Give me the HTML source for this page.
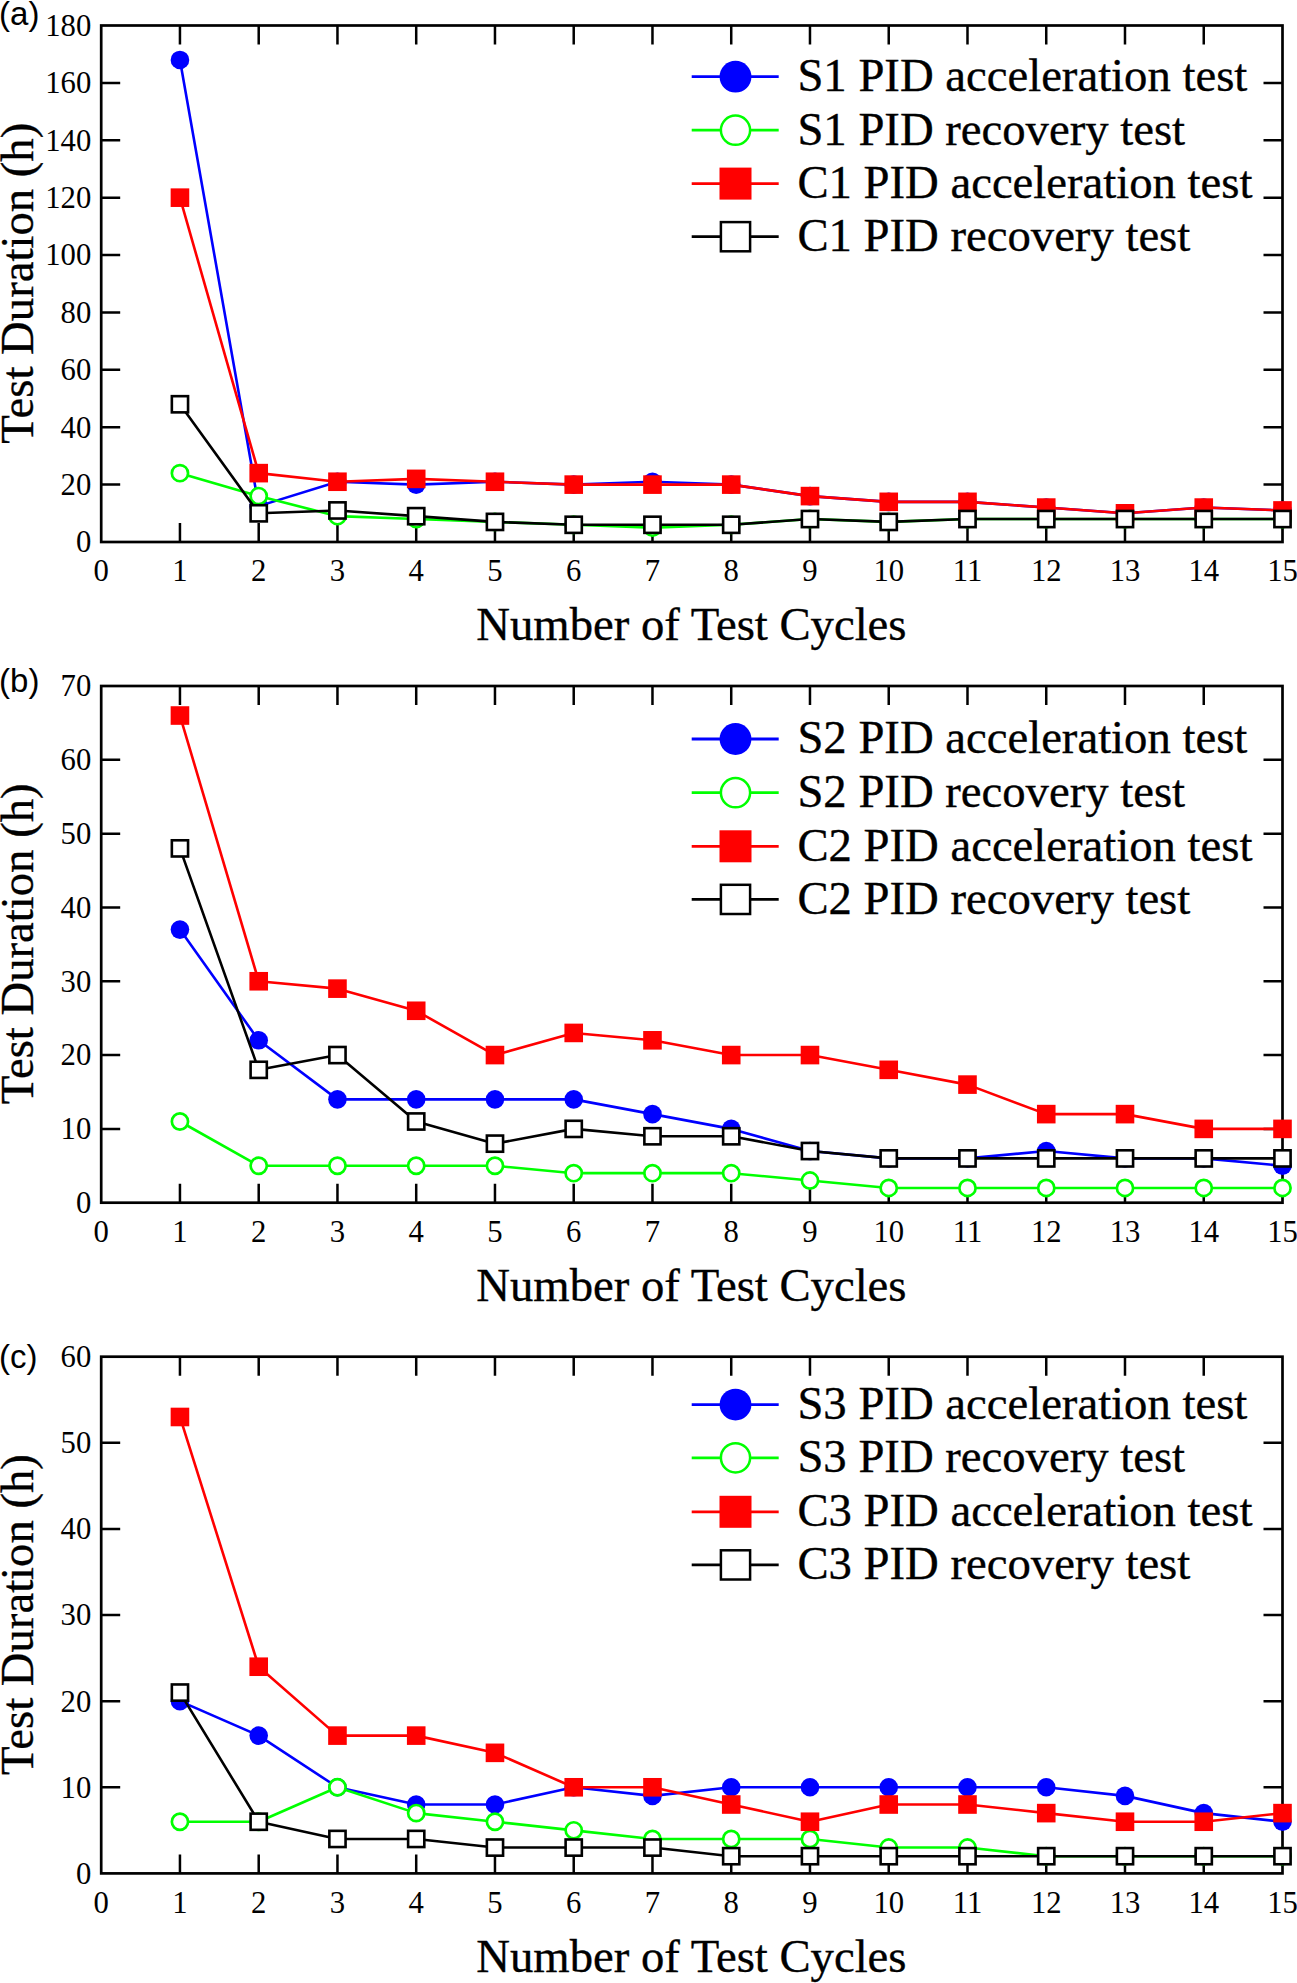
<!DOCTYPE html>
<html><head><meta charset="utf-8"><title>PID test duration</title>
<style>
html,body{margin:0;padding:0;background:#fff;}
body{width:1297px;height:1983px;overflow:hidden;}
svg{display:block;}
.t{font-family:"Liberation Serif", serif;font-size:30.7px;text-anchor:middle;fill:#000;}
.ty{font-family:"Liberation Serif", serif;font-size:30.7px;text-anchor:end;fill:#000;}
.ti{font-family:"Liberation Serif", serif;font-size:46.7px;text-anchor:middle;fill:#000;stroke:#000;stroke-width:0.35px;}
.lg{font-family:"Liberation Serif", serif;font-size:46.7px;fill:#000;stroke:#000;stroke-width:0.35px;}
.pl{font-family:"Liberation Sans", sans-serif;font-size:33px;fill:#000;}
</style></head><body>
<svg width="1297" height="1983" viewBox="0 0 1297 1983">
<rect width="1297" height="1983" fill="#fff"/>
<path d="M179.95 542V523M179.95 25.5V44.5M258.71 542V523M258.71 25.5V44.5M337.46 542V523M337.46 25.5V44.5M416.21 542V523M416.21 25.5V44.5M494.97 542V523M494.97 25.5V44.5M573.72 542V523M573.72 25.5V44.5M652.47 542V523M652.47 25.5V44.5M731.23 542V523M731.23 25.5V44.5M809.98 542V523M809.98 25.5V44.5M888.73 542V523M888.73 25.5V44.5M967.49 542V523M967.49 25.5V44.5M1046.24 542V523M1046.24 25.5V44.5M1124.99 542V523M1124.99 25.5V44.5M1203.75 542V523M1203.75 25.5V44.5M101.2 484.61H120.2M1282.5 484.61H1263.5M101.2 427.22H120.2M1282.5 427.22H1263.5M101.2 369.83H120.2M1282.5 369.83H1263.5M101.2 312.44H120.2M1282.5 312.44H1263.5M101.2 255.06H120.2M1282.5 255.06H1263.5M101.2 197.67H120.2M1282.5 197.67H1263.5M101.2 140.28H120.2M1282.5 140.28H1263.5M101.2 82.89H120.2M1282.5 82.89H1263.5" stroke="#000" stroke-width="2.5" fill="none"/>
<rect x="101.2" y="25.5" width="1181.3" height="516.5" fill="none" stroke="#000" stroke-width="2.7"/>
<text transform="translate(101.2 581.3) scale(1 1.03)" class="t">0</text>
<text transform="translate(179.95 581.3) scale(1 1.03)" class="t">1</text>
<text transform="translate(258.71 581.3) scale(1 1.03)" class="t">2</text>
<text transform="translate(337.46 581.3) scale(1 1.03)" class="t">3</text>
<text transform="translate(416.21 581.3) scale(1 1.03)" class="t">4</text>
<text transform="translate(494.97 581.3) scale(1 1.03)" class="t">5</text>
<text transform="translate(573.72 581.3) scale(1 1.03)" class="t">6</text>
<text transform="translate(652.47 581.3) scale(1 1.03)" class="t">7</text>
<text transform="translate(731.23 581.3) scale(1 1.03)" class="t">8</text>
<text transform="translate(809.98 581.3) scale(1 1.03)" class="t">9</text>
<text transform="translate(888.73 581.3) scale(1 1.03)" class="t">10</text>
<text transform="translate(967.49 581.3) scale(1 1.03)" class="t">11</text>
<text transform="translate(1046.24 581.3) scale(1 1.03)" class="t">12</text>
<text transform="translate(1124.99 581.3) scale(1 1.03)" class="t">13</text>
<text transform="translate(1203.75 581.3) scale(1 1.03)" class="t">14</text>
<text transform="translate(1282.5 581.3) scale(1 1.03)" class="t">15</text>
<text transform="translate(91.3 552.4) scale(1 1.03)" class="ty">0</text>
<text transform="translate(91.3 495.01) scale(1 1.03)" class="ty">20</text>
<text transform="translate(91.3 437.62) scale(1 1.03)" class="ty">40</text>
<text transform="translate(91.3 380.23) scale(1 1.03)" class="ty">60</text>
<text transform="translate(91.3 322.84) scale(1 1.03)" class="ty">80</text>
<text transform="translate(91.3 265.46) scale(1 1.03)" class="ty">100</text>
<text transform="translate(91.3 208.07) scale(1 1.03)" class="ty">120</text>
<text transform="translate(91.3 150.68) scale(1 1.03)" class="ty">140</text>
<text transform="translate(91.3 93.29) scale(1 1.03)" class="ty">160</text>
<text transform="translate(91.3 35.9) scale(1 1.03)" class="ty">180</text>
<text transform="translate(691.4 639.7) scale(1 1.0)" class="ti">Number of Test Cycles</text>
<text transform="translate(33.3 283.25) rotate(-90) scale(1 1.0)" class="ti">Test Duration (h)</text>
<text x="-0.9" y="24.7" class="pl">(a)</text>
<polyline points="179.95,59.93 258.71,506.13 337.46,481.74 416.21,484.61 494.97,481.74 573.72,484.61 652.47,481.74 731.23,484.61 809.98,496.09 888.73,501.83 967.49,501.83 1046.24,507.57 1124.99,513.31 1203.75,507.57 1282.5,510.44" fill="none" stroke="#0000ff" stroke-width="2.6" stroke-linejoin="round"/>
<g fill="#0000ff"><circle cx="179.95" cy="59.93" r="9.3"/><circle cx="258.71" cy="506.13" r="9.3"/><circle cx="337.46" cy="481.74" r="9.3"/><circle cx="416.21" cy="484.61" r="9.3"/><circle cx="494.97" cy="481.74" r="9.3"/><circle cx="573.72" cy="484.61" r="9.3"/><circle cx="652.47" cy="481.74" r="9.3"/><circle cx="731.23" cy="484.61" r="9.3"/><circle cx="809.98" cy="496.09" r="9.3"/><circle cx="888.73" cy="501.83" r="9.3"/><circle cx="967.49" cy="501.83" r="9.3"/><circle cx="1046.24" cy="507.57" r="9.3"/><circle cx="1124.99" cy="513.31" r="9.3"/><circle cx="1203.75" cy="507.57" r="9.3"/><circle cx="1282.5" cy="510.44" r="9.3"/></g>
<polyline points="179.95,473.13 258.71,496.09 337.46,516.17 416.21,519.04 494.97,521.91 573.72,524.78 652.47,527.65 731.23,524.78 809.98,519.04 888.73,521.91 967.49,519.04 1046.24,519.04 1124.99,519.04 1203.75,519.04 1282.5,519.04" fill="none" stroke="#00ff00" stroke-width="2.6" stroke-linejoin="round"/>
<g fill="#fff" stroke="#00ff00" stroke-width="2.7"><circle cx="179.95" cy="473.13" r="8.1"/><circle cx="258.71" cy="496.09" r="8.1"/><circle cx="337.46" cy="516.17" r="8.1"/><circle cx="416.21" cy="519.04" r="8.1"/><circle cx="494.97" cy="521.91" r="8.1"/><circle cx="573.72" cy="524.78" r="8.1"/><circle cx="652.47" cy="527.65" r="8.1"/><circle cx="731.23" cy="524.78" r="8.1"/><circle cx="809.98" cy="519.04" r="8.1"/><circle cx="888.73" cy="521.91" r="8.1"/><circle cx="967.49" cy="519.04" r="8.1"/><circle cx="1046.24" cy="519.04" r="8.1"/><circle cx="1124.99" cy="519.04" r="8.1"/><circle cx="1203.75" cy="519.04" r="8.1"/><circle cx="1282.5" cy="519.04" r="8.1"/></g>
<polyline points="179.95,197.67 258.71,473.13 337.46,481.74 416.21,478.87 494.97,481.74 573.72,484.61 652.47,484.61 731.23,484.61 809.98,496.09 888.73,501.83 967.49,501.83 1046.24,507.57 1124.99,513.31 1203.75,507.57 1282.5,510.44" fill="none" stroke="#ff0000" stroke-width="2.6" stroke-linejoin="round"/>
<g fill="#ff0000"><rect x="170.65" y="188.37" width="18.6" height="18.6"/><rect x="249.41" y="463.83" width="18.6" height="18.6"/><rect x="328.16" y="472.44" width="18.6" height="18.6"/><rect x="406.91" y="469.57" width="18.6" height="18.6"/><rect x="485.67" y="472.44" width="18.6" height="18.6"/><rect x="564.42" y="475.31" width="18.6" height="18.6"/><rect x="643.17" y="475.31" width="18.6" height="18.6"/><rect x="721.93" y="475.31" width="18.6" height="18.6"/><rect x="800.68" y="486.79" width="18.6" height="18.6"/><rect x="879.43" y="492.53" width="18.6" height="18.6"/><rect x="958.19" y="492.53" width="18.6" height="18.6"/><rect x="1036.94" y="498.27" width="18.6" height="18.6"/><rect x="1115.69" y="504.01" width="18.6" height="18.6"/><rect x="1194.45" y="498.27" width="18.6" height="18.6"/><rect x="1273.2" y="501.14" width="18.6" height="18.6"/></g>
<polyline points="179.95,404.27 258.71,513.31 337.46,510.44 416.21,516.17 494.97,521.91 573.72,524.78 652.47,524.78 731.23,524.78 809.98,519.04 888.73,521.91 967.49,519.04 1046.24,519.04 1124.99,519.04 1203.75,519.04 1282.5,519.04" fill="none" stroke="#000000" stroke-width="2.6" stroke-linejoin="round"/>
<g fill="#fff" stroke="#000000" stroke-width="2.6"><rect x="171.85" y="396.17" width="16.2" height="16.2"/><rect x="250.61" y="505.21" width="16.2" height="16.2"/><rect x="329.36" y="502.34" width="16.2" height="16.2"/><rect x="408.11" y="508.07" width="16.2" height="16.2"/><rect x="486.87" y="513.81" width="16.2" height="16.2"/><rect x="565.62" y="516.68" width="16.2" height="16.2"/><rect x="644.37" y="516.68" width="16.2" height="16.2"/><rect x="723.13" y="516.68" width="16.2" height="16.2"/><rect x="801.88" y="510.94" width="16.2" height="16.2"/><rect x="880.63" y="513.81" width="16.2" height="16.2"/><rect x="959.39" y="510.94" width="16.2" height="16.2"/><rect x="1038.14" y="510.94" width="16.2" height="16.2"/><rect x="1116.89" y="510.94" width="16.2" height="16.2"/><rect x="1195.65" y="510.94" width="16.2" height="16.2"/><rect x="1274.4" y="510.94" width="16.2" height="16.2"/></g>
<path d="M691.7 76.7H778.7" stroke="#0000ff" stroke-width="2.8"/>
<circle cx="735.5" cy="76.7" r="15.9" fill="#0000ff"/>
<text transform="translate(797.4 91) scale(1 1.0)" class="lg">S1 PID acceleration test</text>
<path d="M691.7 130.2H778.7" stroke="#00ff00" stroke-width="2.8"/>
<circle cx="735.5" cy="130.2" r="14.6" fill="#fff" stroke="#00ff00" stroke-width="2.5"/>
<text transform="translate(797.4 144.5) scale(1 1.0)" class="lg">S1 PID recovery test</text>
<path d="M691.7 183.6H778.7" stroke="#ff0000" stroke-width="2.8"/>
<rect x="719.5" y="167.6" width="32" height="32" fill="#ff0000"/>
<text transform="translate(797.4 197.9) scale(1 1.0)" class="lg">C1 PID acceleration test</text>
<path d="M691.7 236.7H778.7" stroke="#000000" stroke-width="2.8"/>
<rect x="720.9" y="222.1" width="29.2" height="29.2" fill="#fff" stroke="#000000" stroke-width="2.5"/>
<text transform="translate(797.4 251) scale(1 1.0)" class="lg">C1 PID recovery test</text>
<path d="M179.95 1202.7V1183.7M179.95 686V705M258.71 1202.7V1183.7M258.71 686V705M337.46 1202.7V1183.7M337.46 686V705M416.21 1202.7V1183.7M416.21 686V705M494.97 1202.7V1183.7M494.97 686V705M573.72 1202.7V1183.7M573.72 686V705M652.47 1202.7V1183.7M652.47 686V705M731.23 1202.7V1183.7M731.23 686V705M809.98 1202.7V1183.7M809.98 686V705M888.73 1202.7V1183.7M888.73 686V705M967.49 1202.7V1183.7M967.49 686V705M1046.24 1202.7V1183.7M1046.24 686V705M1124.99 1202.7V1183.7M1124.99 686V705M1203.75 1202.7V1183.7M1203.75 686V705M101.2 1128.89H120.2M1282.5 1128.89H1263.5M101.2 1055.07H120.2M1282.5 1055.07H1263.5M101.2 981.26H120.2M1282.5 981.26H1263.5M101.2 907.44H120.2M1282.5 907.44H1263.5M101.2 833.63H120.2M1282.5 833.63H1263.5M101.2 759.81H120.2M1282.5 759.81H1263.5" stroke="#000" stroke-width="2.5" fill="none"/>
<rect x="101.2" y="686" width="1181.3" height="516.7" fill="none" stroke="#000" stroke-width="2.7"/>
<text transform="translate(101.2 1242) scale(1 1.03)" class="t">0</text>
<text transform="translate(179.95 1242) scale(1 1.03)" class="t">1</text>
<text transform="translate(258.71 1242) scale(1 1.03)" class="t">2</text>
<text transform="translate(337.46 1242) scale(1 1.03)" class="t">3</text>
<text transform="translate(416.21 1242) scale(1 1.03)" class="t">4</text>
<text transform="translate(494.97 1242) scale(1 1.03)" class="t">5</text>
<text transform="translate(573.72 1242) scale(1 1.03)" class="t">6</text>
<text transform="translate(652.47 1242) scale(1 1.03)" class="t">7</text>
<text transform="translate(731.23 1242) scale(1 1.03)" class="t">8</text>
<text transform="translate(809.98 1242) scale(1 1.03)" class="t">9</text>
<text transform="translate(888.73 1242) scale(1 1.03)" class="t">10</text>
<text transform="translate(967.49 1242) scale(1 1.03)" class="t">11</text>
<text transform="translate(1046.24 1242) scale(1 1.03)" class="t">12</text>
<text transform="translate(1124.99 1242) scale(1 1.03)" class="t">13</text>
<text transform="translate(1203.75 1242) scale(1 1.03)" class="t">14</text>
<text transform="translate(1282.5 1242) scale(1 1.03)" class="t">15</text>
<text transform="translate(91.3 1213.1) scale(1 1.03)" class="ty">0</text>
<text transform="translate(91.3 1139.29) scale(1 1.03)" class="ty">10</text>
<text transform="translate(91.3 1065.47) scale(1 1.03)" class="ty">20</text>
<text transform="translate(91.3 991.66) scale(1 1.03)" class="ty">30</text>
<text transform="translate(91.3 917.84) scale(1 1.03)" class="ty">40</text>
<text transform="translate(91.3 844.03) scale(1 1.03)" class="ty">50</text>
<text transform="translate(91.3 770.21) scale(1 1.03)" class="ty">60</text>
<text transform="translate(91.3 696.4) scale(1 1.03)" class="ty">70</text>
<text transform="translate(691.4 1301.1) scale(1 1.0)" class="ti">Number of Test Cycles</text>
<text transform="translate(33.3 943.85) rotate(-90) scale(1 1.0)" class="ti">Test Duration (h)</text>
<text x="-0.9" y="691.7" class="pl">(b)</text>
<polyline points="179.95,929.59 258.71,1040.31 337.46,1099.36 416.21,1099.36 494.97,1099.36 573.72,1099.36 652.47,1114.12 731.23,1128.89 809.98,1151.03 888.73,1158.41 967.49,1158.41 1046.24,1151.03 1124.99,1158.41 1203.75,1158.41 1282.5,1165.79" fill="none" stroke="#0000ff" stroke-width="2.6" stroke-linejoin="round"/>
<g fill="#0000ff"><circle cx="179.95" cy="929.59" r="9.3"/><circle cx="258.71" cy="1040.31" r="9.3"/><circle cx="337.46" cy="1099.36" r="9.3"/><circle cx="416.21" cy="1099.36" r="9.3"/><circle cx="494.97" cy="1099.36" r="9.3"/><circle cx="573.72" cy="1099.36" r="9.3"/><circle cx="652.47" cy="1114.12" r="9.3"/><circle cx="731.23" cy="1128.89" r="9.3"/><circle cx="809.98" cy="1151.03" r="9.3"/><circle cx="888.73" cy="1158.41" r="9.3"/><circle cx="967.49" cy="1158.41" r="9.3"/><circle cx="1046.24" cy="1151.03" r="9.3"/><circle cx="1124.99" cy="1158.41" r="9.3"/><circle cx="1203.75" cy="1158.41" r="9.3"/><circle cx="1282.5" cy="1165.79" r="9.3"/></g>
<polyline points="179.95,1121.5 258.71,1165.79 337.46,1165.79 416.21,1165.79 494.97,1165.79 573.72,1173.17 652.47,1173.17 731.23,1173.17 809.98,1180.56 888.73,1187.94 967.49,1187.94 1046.24,1187.94 1124.99,1187.94 1203.75,1187.94 1282.5,1187.94" fill="none" stroke="#00ff00" stroke-width="2.6" stroke-linejoin="round"/>
<g fill="#fff" stroke="#00ff00" stroke-width="2.7"><circle cx="179.95" cy="1121.5" r="8.1"/><circle cx="258.71" cy="1165.79" r="8.1"/><circle cx="337.46" cy="1165.79" r="8.1"/><circle cx="416.21" cy="1165.79" r="8.1"/><circle cx="494.97" cy="1165.79" r="8.1"/><circle cx="573.72" cy="1173.17" r="8.1"/><circle cx="652.47" cy="1173.17" r="8.1"/><circle cx="731.23" cy="1173.17" r="8.1"/><circle cx="809.98" cy="1180.56" r="8.1"/><circle cx="888.73" cy="1187.94" r="8.1"/><circle cx="967.49" cy="1187.94" r="8.1"/><circle cx="1046.24" cy="1187.94" r="8.1"/><circle cx="1124.99" cy="1187.94" r="8.1"/><circle cx="1203.75" cy="1187.94" r="8.1"/><circle cx="1282.5" cy="1187.94" r="8.1"/></g>
<polyline points="179.95,715.53 258.71,981.26 337.46,988.64 416.21,1010.78 494.97,1055.07 573.72,1032.93 652.47,1040.31 731.23,1055.07 809.98,1055.07 888.73,1069.83 967.49,1084.6 1046.24,1114.12 1124.99,1114.12 1203.75,1128.89 1282.5,1128.89" fill="none" stroke="#ff0000" stroke-width="2.6" stroke-linejoin="round"/>
<g fill="#ff0000"><rect x="170.65" y="706.23" width="18.6" height="18.6"/><rect x="249.41" y="971.96" width="18.6" height="18.6"/><rect x="328.16" y="979.34" width="18.6" height="18.6"/><rect x="406.91" y="1001.48" width="18.6" height="18.6"/><rect x="485.67" y="1045.77" width="18.6" height="18.6"/><rect x="564.42" y="1023.63" width="18.6" height="18.6"/><rect x="643.17" y="1031.01" width="18.6" height="18.6"/><rect x="721.93" y="1045.77" width="18.6" height="18.6"/><rect x="800.68" y="1045.77" width="18.6" height="18.6"/><rect x="879.43" y="1060.53" width="18.6" height="18.6"/><rect x="958.19" y="1075.3" width="18.6" height="18.6"/><rect x="1036.94" y="1104.82" width="18.6" height="18.6"/><rect x="1115.69" y="1104.82" width="18.6" height="18.6"/><rect x="1194.45" y="1119.59" width="18.6" height="18.6"/><rect x="1273.2" y="1119.59" width="18.6" height="18.6"/></g>
<polyline points="179.95,848.39 258.71,1069.83 337.46,1055.07 416.21,1121.5 494.97,1143.65 573.72,1128.89 652.47,1136.27 731.23,1136.27 809.98,1151.03 888.73,1158.41 967.49,1158.41 1046.24,1158.41 1124.99,1158.41 1203.75,1158.41 1282.5,1158.41" fill="none" stroke="#000000" stroke-width="2.6" stroke-linejoin="round"/>
<g fill="#fff" stroke="#000000" stroke-width="2.6"><rect x="171.85" y="840.29" width="16.2" height="16.2"/><rect x="250.61" y="1061.73" width="16.2" height="16.2"/><rect x="329.36" y="1046.97" width="16.2" height="16.2"/><rect x="408.11" y="1113.4" width="16.2" height="16.2"/><rect x="486.87" y="1135.55" width="16.2" height="16.2"/><rect x="565.62" y="1120.79" width="16.2" height="16.2"/><rect x="644.37" y="1128.17" width="16.2" height="16.2"/><rect x="723.13" y="1128.17" width="16.2" height="16.2"/><rect x="801.88" y="1142.93" width="16.2" height="16.2"/><rect x="880.63" y="1150.31" width="16.2" height="16.2"/><rect x="959.39" y="1150.31" width="16.2" height="16.2"/><rect x="1038.14" y="1150.31" width="16.2" height="16.2"/><rect x="1116.89" y="1150.31" width="16.2" height="16.2"/><rect x="1195.65" y="1150.31" width="16.2" height="16.2"/><rect x="1274.4" y="1150.31" width="16.2" height="16.2"/></g>
<path d="M691.7 739H778.7" stroke="#0000ff" stroke-width="2.8"/>
<circle cx="735.5" cy="739" r="15.9" fill="#0000ff"/>
<text transform="translate(797.4 753.3) scale(1 1.0)" class="lg">S2 PID acceleration test</text>
<path d="M691.7 792.7H778.7" stroke="#00ff00" stroke-width="2.8"/>
<circle cx="735.5" cy="792.7" r="14.6" fill="#fff" stroke="#00ff00" stroke-width="2.5"/>
<text transform="translate(797.4 807) scale(1 1.0)" class="lg">S2 PID recovery test</text>
<path d="M691.7 846.3H778.7" stroke="#ff0000" stroke-width="2.8"/>
<rect x="719.5" y="830.3" width="32" height="32" fill="#ff0000"/>
<text transform="translate(797.4 860.6) scale(1 1.0)" class="lg">C2 PID acceleration test</text>
<path d="M691.7 899.4H778.7" stroke="#000000" stroke-width="2.8"/>
<rect x="720.9" y="884.8" width="29.2" height="29.2" fill="#fff" stroke="#000000" stroke-width="2.5"/>
<text transform="translate(797.4 913.7) scale(1 1.0)" class="lg">C2 PID recovery test</text>
<path d="M179.95 1873.4V1854.4M179.95 1356.7V1375.7M258.71 1873.4V1854.4M258.71 1356.7V1375.7M337.46 1873.4V1854.4M337.46 1356.7V1375.7M416.21 1873.4V1854.4M416.21 1356.7V1375.7M494.97 1873.4V1854.4M494.97 1356.7V1375.7M573.72 1873.4V1854.4M573.72 1356.7V1375.7M652.47 1873.4V1854.4M652.47 1356.7V1375.7M731.23 1873.4V1854.4M731.23 1356.7V1375.7M809.98 1873.4V1854.4M809.98 1356.7V1375.7M888.73 1873.4V1854.4M888.73 1356.7V1375.7M967.49 1873.4V1854.4M967.49 1356.7V1375.7M1046.24 1873.4V1854.4M1046.24 1356.7V1375.7M1124.99 1873.4V1854.4M1124.99 1356.7V1375.7M1203.75 1873.4V1854.4M1203.75 1356.7V1375.7M101.2 1787.28H120.2M1282.5 1787.28H1263.5M101.2 1701.17H120.2M1282.5 1701.17H1263.5M101.2 1615.05H120.2M1282.5 1615.05H1263.5M101.2 1528.93H120.2M1282.5 1528.93H1263.5M101.2 1442.82H120.2M1282.5 1442.82H1263.5" stroke="#000" stroke-width="2.5" fill="none"/>
<rect x="101.2" y="1356.7" width="1181.3" height="516.7" fill="none" stroke="#000" stroke-width="2.7"/>
<text transform="translate(101.2 1912.7) scale(1 1.03)" class="t">0</text>
<text transform="translate(179.95 1912.7) scale(1 1.03)" class="t">1</text>
<text transform="translate(258.71 1912.7) scale(1 1.03)" class="t">2</text>
<text transform="translate(337.46 1912.7) scale(1 1.03)" class="t">3</text>
<text transform="translate(416.21 1912.7) scale(1 1.03)" class="t">4</text>
<text transform="translate(494.97 1912.7) scale(1 1.03)" class="t">5</text>
<text transform="translate(573.72 1912.7) scale(1 1.03)" class="t">6</text>
<text transform="translate(652.47 1912.7) scale(1 1.03)" class="t">7</text>
<text transform="translate(731.23 1912.7) scale(1 1.03)" class="t">8</text>
<text transform="translate(809.98 1912.7) scale(1 1.03)" class="t">9</text>
<text transform="translate(888.73 1912.7) scale(1 1.03)" class="t">10</text>
<text transform="translate(967.49 1912.7) scale(1 1.03)" class="t">11</text>
<text transform="translate(1046.24 1912.7) scale(1 1.03)" class="t">12</text>
<text transform="translate(1124.99 1912.7) scale(1 1.03)" class="t">13</text>
<text transform="translate(1203.75 1912.7) scale(1 1.03)" class="t">14</text>
<text transform="translate(1282.5 1912.7) scale(1 1.03)" class="t">15</text>
<text transform="translate(91.3 1883.8) scale(1 1.03)" class="ty">0</text>
<text transform="translate(91.3 1797.68) scale(1 1.03)" class="ty">10</text>
<text transform="translate(91.3 1711.57) scale(1 1.03)" class="ty">20</text>
<text transform="translate(91.3 1625.45) scale(1 1.03)" class="ty">30</text>
<text transform="translate(91.3 1539.33) scale(1 1.03)" class="ty">40</text>
<text transform="translate(91.3 1453.22) scale(1 1.03)" class="ty">50</text>
<text transform="translate(91.3 1367.1) scale(1 1.03)" class="ty">60</text>
<text transform="translate(691.4 1972.1) scale(1 1.0)" class="ti">Number of Test Cycles</text>
<text transform="translate(33.3 1614.55) rotate(-90) scale(1 1.0)" class="ti">Test Duration (h)</text>
<text x="-0.9" y="1367.9" class="pl">(c)</text>
<polyline points="179.95,1701.17 258.71,1735.61 337.46,1787.28 416.21,1804.51 494.97,1804.51 573.72,1787.28 652.47,1795.89 731.23,1787.28 809.98,1787.28 888.73,1787.28 967.49,1787.28 1046.24,1787.28 1124.99,1795.89 1203.75,1813.12 1282.5,1821.73" fill="none" stroke="#0000ff" stroke-width="2.6" stroke-linejoin="round"/>
<g fill="#0000ff"><circle cx="179.95" cy="1701.17" r="9.3"/><circle cx="258.71" cy="1735.61" r="9.3"/><circle cx="337.46" cy="1787.28" r="9.3"/><circle cx="416.21" cy="1804.51" r="9.3"/><circle cx="494.97" cy="1804.51" r="9.3"/><circle cx="573.72" cy="1787.28" r="9.3"/><circle cx="652.47" cy="1795.89" r="9.3"/><circle cx="731.23" cy="1787.28" r="9.3"/><circle cx="809.98" cy="1787.28" r="9.3"/><circle cx="888.73" cy="1787.28" r="9.3"/><circle cx="967.49" cy="1787.28" r="9.3"/><circle cx="1046.24" cy="1787.28" r="9.3"/><circle cx="1124.99" cy="1795.89" r="9.3"/><circle cx="1203.75" cy="1813.12" r="9.3"/><circle cx="1282.5" cy="1821.73" r="9.3"/></g>
<polyline points="179.95,1821.73 258.71,1821.73 337.46,1787.28 416.21,1813.12 494.97,1821.73 573.72,1830.34 652.47,1838.95 731.23,1838.95 809.98,1838.95 888.73,1847.57 967.49,1847.57 1046.24,1856.18 1124.99,1856.18 1203.75,1856.18 1282.5,1856.18" fill="none" stroke="#00ff00" stroke-width="2.6" stroke-linejoin="round"/>
<g fill="#fff" stroke="#00ff00" stroke-width="2.7"><circle cx="179.95" cy="1821.73" r="8.1"/><circle cx="258.71" cy="1821.73" r="8.1"/><circle cx="337.46" cy="1787.28" r="8.1"/><circle cx="416.21" cy="1813.12" r="8.1"/><circle cx="494.97" cy="1821.73" r="8.1"/><circle cx="573.72" cy="1830.34" r="8.1"/><circle cx="652.47" cy="1838.95" r="8.1"/><circle cx="731.23" cy="1838.95" r="8.1"/><circle cx="809.98" cy="1838.95" r="8.1"/><circle cx="888.73" cy="1847.57" r="8.1"/><circle cx="967.49" cy="1847.57" r="8.1"/><circle cx="1046.24" cy="1856.18" r="8.1"/><circle cx="1124.99" cy="1856.18" r="8.1"/><circle cx="1203.75" cy="1856.18" r="8.1"/><circle cx="1282.5" cy="1856.18" r="8.1"/></g>
<polyline points="179.95,1416.98 258.71,1666.72 337.46,1735.61 416.21,1735.61 494.97,1752.84 573.72,1787.28 652.47,1787.28 731.23,1804.51 809.98,1821.73 888.73,1804.51 967.49,1804.51 1046.24,1813.12 1124.99,1821.73 1203.75,1821.73 1282.5,1813.12" fill="none" stroke="#ff0000" stroke-width="2.6" stroke-linejoin="round"/>
<g fill="#ff0000"><rect x="170.65" y="1407.68" width="18.6" height="18.6"/><rect x="249.41" y="1657.42" width="18.6" height="18.6"/><rect x="328.16" y="1726.31" width="18.6" height="18.6"/><rect x="406.91" y="1726.31" width="18.6" height="18.6"/><rect x="485.67" y="1743.54" width="18.6" height="18.6"/><rect x="564.42" y="1777.98" width="18.6" height="18.6"/><rect x="643.17" y="1777.98" width="18.6" height="18.6"/><rect x="721.93" y="1795.21" width="18.6" height="18.6"/><rect x="800.68" y="1812.43" width="18.6" height="18.6"/><rect x="879.43" y="1795.21" width="18.6" height="18.6"/><rect x="958.19" y="1795.21" width="18.6" height="18.6"/><rect x="1036.94" y="1803.82" width="18.6" height="18.6"/><rect x="1115.69" y="1812.43" width="18.6" height="18.6"/><rect x="1194.45" y="1812.43" width="18.6" height="18.6"/><rect x="1273.2" y="1803.82" width="18.6" height="18.6"/></g>
<polyline points="179.95,1692.56 258.71,1821.73 337.46,1838.95 416.21,1838.95 494.97,1847.57 573.72,1847.57 652.47,1847.57 731.23,1856.18 809.98,1856.18 888.73,1856.18 967.49,1856.18 1046.24,1856.18 1124.99,1856.18 1203.75,1856.18 1282.5,1856.18" fill="none" stroke="#000000" stroke-width="2.6" stroke-linejoin="round"/>
<g fill="#fff" stroke="#000000" stroke-width="2.6"><rect x="171.85" y="1684.46" width="16.2" height="16.2"/><rect x="250.61" y="1813.63" width="16.2" height="16.2"/><rect x="329.36" y="1830.85" width="16.2" height="16.2"/><rect x="408.11" y="1830.85" width="16.2" height="16.2"/><rect x="486.87" y="1839.47" width="16.2" height="16.2"/><rect x="565.62" y="1839.47" width="16.2" height="16.2"/><rect x="644.37" y="1839.47" width="16.2" height="16.2"/><rect x="723.13" y="1848.08" width="16.2" height="16.2"/><rect x="801.88" y="1848.08" width="16.2" height="16.2"/><rect x="880.63" y="1848.08" width="16.2" height="16.2"/><rect x="959.39" y="1848.08" width="16.2" height="16.2"/><rect x="1038.14" y="1848.08" width="16.2" height="16.2"/><rect x="1116.89" y="1848.08" width="16.2" height="16.2"/><rect x="1195.65" y="1848.08" width="16.2" height="16.2"/><rect x="1274.4" y="1848.08" width="16.2" height="16.2"/></g>
<path d="M691.7 1404.6H778.7" stroke="#0000ff" stroke-width="2.8"/>
<circle cx="735.5" cy="1404.6" r="15.9" fill="#0000ff"/>
<text transform="translate(797.4 1418.9) scale(1 1.0)" class="lg">S3 PID acceleration test</text>
<path d="M691.7 1457.8H778.7" stroke="#00ff00" stroke-width="2.8"/>
<circle cx="735.5" cy="1457.8" r="14.6" fill="#fff" stroke="#00ff00" stroke-width="2.5"/>
<text transform="translate(797.4 1472.1) scale(1 1.0)" class="lg">S3 PID recovery test</text>
<path d="M691.7 1511.8H778.7" stroke="#ff0000" stroke-width="2.8"/>
<rect x="719.5" y="1495.8" width="32" height="32" fill="#ff0000"/>
<text transform="translate(797.4 1526.1) scale(1 1.0)" class="lg">C3 PID acceleration test</text>
<path d="M691.7 1564.9H778.7" stroke="#000000" stroke-width="2.8"/>
<rect x="720.9" y="1550.3" width="29.2" height="29.2" fill="#fff" stroke="#000000" stroke-width="2.5"/>
<text transform="translate(797.4 1579.2) scale(1 1.0)" class="lg">C3 PID recovery test</text>
</svg>
</body></html>
